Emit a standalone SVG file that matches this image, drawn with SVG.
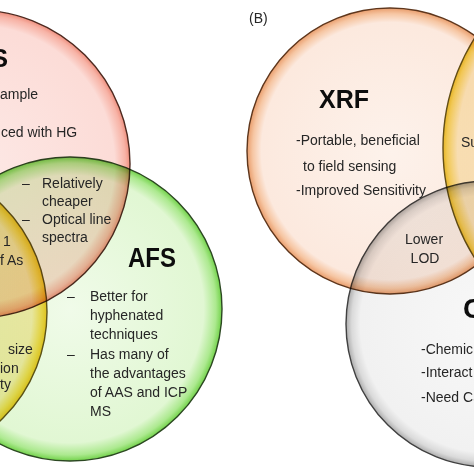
<svg xmlns="http://www.w3.org/2000/svg" width="474" height="474" viewBox="0 0 474 474">
<style>
.c{mix-blend-mode:multiply;stroke-width:1.4}
.t{font-family:"Liberation Sans",Arial,sans-serif;font-size:14px;fill:#262626}
.h{font-family:"Liberation Sans",Arial,sans-serif;font-weight:bold;fill:#0d0d0d}
.m{text-anchor:middle}
</style>
<defs>
<radialGradient id="gRed"><stop offset="0" stop-color="#fde8e5"/><stop offset="0.9" stop-color="#fcdcd7"/><stop offset="0.97" stop-color="#f7b3a6"/><stop offset="1" stop-color="#ee8e7d"/></radialGradient>
<radialGradient id="gGreen"><stop offset="0" stop-color="#f0fbe9"/><stop offset="0.88" stop-color="#e1f7d3"/><stop offset="0.96" stop-color="#ace98f"/><stop offset="1" stop-color="#72d24a"/></radialGradient>
<radialGradient id="gYel"><stop offset="0" stop-color="#fcf2cc"/><stop offset="0.9" stop-color="#faebb2"/><stop offset="0.96" stop-color="#f6da55"/><stop offset="1" stop-color="#eec520"/></radialGradient>
<radialGradient id="gXrf"><stop offset="0" stop-color="#fdf2eb"/><stop offset="0.9" stop-color="#fce9de"/><stop offset="0.96" stop-color="#f6c6a3"/><stop offset="1" stop-color="#e99d6c"/></radialGradient>
<radialGradient id="gYel2"><stop offset="0" stop-color="#fcf6de"/><stop offset="0.93" stop-color="#faeec6"/><stop offset="0.98" stop-color="#f4d860"/><stop offset="1" stop-color="#e8c22a"/></radialGradient>
<radialGradient id="gGray"><stop offset="0" stop-color="#f8f8f8"/><stop offset="0.9" stop-color="#f1f1f1"/><stop offset="0.96" stop-color="#dadada"/><stop offset="1" stop-color="#acacac"/></radialGradient>
</defs>
<rect width="474" height="474" fill="#fff"/>
<g id="aas"><circle class="c" cx="-24" cy="164" r="154" fill="url(#gRed)" stroke="#4e2a20"/></g>
<g id="afs"><circle class="c" cx="70" cy="309" r="152" fill="url(#gGreen)" stroke="#2c4822"/></g>
<g id="icp-left"><circle class="c" cx="-103" cy="312" r="150" fill="url(#gYel)" stroke="#645418"/></g>
<g id="xrf"><circle class="c" cx="390" cy="151" r="143" fill="url(#gXrf)" stroke="#5e361c"/></g>
<g id="yel-right"><circle class="c" cx="650" cy="148" r="207" fill="url(#gYel2)" stroke="#645418"/></g>
<g id="gray"><circle class="c" cx="489" cy="324" r="143" fill="url(#gGray)" stroke="#404040"/></g>
<g id="connectors"></g>
<g id="labels">
<text class="h" x="8" y="67" font-size="26" text-anchor="end">AAS</text>
<text class="t" x="0" y="99">ample</text>
<text class="t" x="1" y="137">ced with HG</text>
<text class="t" x="22" y="188">–</text>
<text class="t" x="42" y="188">Relatively</text>
<text class="t" x="42" y="206">cheaper</text>
<text class="t" x="22" y="224">–</text>
<text class="t" x="42" y="224">Optical line</text>
<text class="t" x="42" y="242">spectra</text>
<text class="t" x="3" y="246">1</text>
<text class="t" x="0" y="265">f As</text>
<text class="t" x="8" y="354">size</text>
<text class="t" x="0" y="373">ion</text>
<text class="t" x="0" y="389">ty</text>
<text class="h" x="128" y="267" font-size="28" textLength="48" lengthAdjust="spacingAndGlyphs">AFS</text>
<text class="t" x="67" y="301">–</text>
<text class="t" x="90" y="301">Better for</text>
<text class="t" x="90" y="320">hyphenated</text>
<text class="t" x="90" y="339">techniques</text>
<text class="t" x="67" y="359">–</text>
<text class="t" x="90" y="359">Has many of</text>
<text class="t" x="90" y="378">the advantages</text>
<text class="t" x="90" y="397">of AAS and ICP</text>
<text class="t" x="90" y="416">MS</text>
<text class="t" x="249" y="23" font-size="16">(B)</text>
<text class="h" x="319" y="108" font-size="25">XRF</text>
<text class="t" x="296" y="145">-Portable, beneficial</text>
<text class="t" x="303" y="171">to field sensing</text>
<text class="t" x="296" y="195">-Improved Sensitivity</text>
<text class="t" x="461" y="147">Su</text>
<text class="t m" x="424" y="244">Lower</text>
<text class="t m" x="425" y="263">LOD</text>
<text class="h" x="463" y="318" font-size="28">C</text>
<text class="t" x="421" y="354">-Chemic</text>
<text class="t" x="421" y="377">-Interact</text>
<text class="t" x="421" y="402">-Need Ca</text>
</g>
</svg>
